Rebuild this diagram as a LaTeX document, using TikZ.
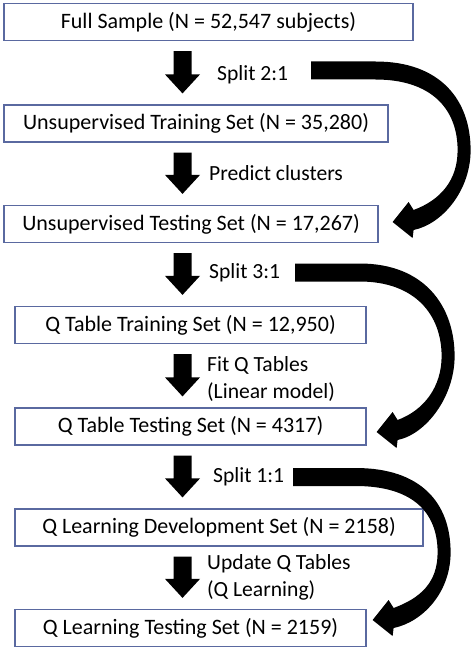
\documentclass[tikz,border=0pt]{standalone}
\usepackage{xcolor}
\usepackage{fontspec}
\setmainfont{Carlito}
\usepackage{tikz}
\usetikzlibrary{positioning}
\usetikzlibrary{calc}

\definecolor{boxline}{RGB}{90,105,160}

\begin{document}
\begin{tikzpicture}
    [%%%%%%%%%%%%%%%%%%%%%%%%%%%%%%
        x=1pt,y=-1pt,
        setbox/.style={rectangle,draw=boxline,line width=1.2pt,minimum height=37pt,inner sep=0pt,font=\fontsize{22}{26}\selectfont},
        lbl/.style={anchor=west,align=left,inner sep=0pt,font=\fontsize{21.6}{27}\selectfont}
    ]%%%%%%%%%%%%%%%%%%%%%%%%%%%%%%

\useasboundingbox (0,0) rectangle (474,650);

% data sets
\node[setbox,minimum width=409pt] (b1) at (208.5,22) {Full Sample (N = 52,547 subjects)};
\node[setbox,minimum width=384pt] (b2) at (196,123.5) {Unsupervised Training Set (N = 35,280)};
\node[setbox,minimum width=374pt] (b3) at (191,224) {Unsupervised Testing Set (N = 17,267)};
\node[setbox,minimum width=351pt] (b4) at (190.5,325) {Q Table Training Set (N = 12,950)};
\node[setbox,minimum width=351pt] (b5) at (190.5,426.5) {Q Table Testing Set (N = 4317)};
\node[setbox,minimum width=408pt] (b6) at (219,527.5) {Q Learning Development Set (N = 2158)};
\node[setbox,minimum width=351pt] (b7) at (190.5,628) {Q Learning Testing Set (N = 2159)};

% steps
\node[lbl] (l1) at (217,75) {Split 2:1};
\node[lbl] (l2) at (209,173) {Predict clusters};
\node[lbl] (l3) at (209,273) {Split 3:1};
\node[lbl] (l4) at (207,378.5) {Fit Q Tables\\(Linear model)};
\node[lbl] (l5) at (213,477) {Split 1:1};
\node[lbl] (l6) at (207,577.5) {Update Q Tables\\(Q Learning)};

% block arrows down
\coordinate (ax) at (182.5,0);
\foreach \i/\j in {1/2,2/3,3/4,4/5,5/6,6/7}{
    \coordinate (at) at ($(ax |- b\i.south)+(0,10)$);
    \coordinate (ab) at ($(ax |- b\j.north)+(0,-11)$);
    \fill ($(at)+(-9,0)$) -- ($(ab)+(-9,-19)$) -- ($(ab)+(-17.5,-19)$) -- (ab)
        -- ($(ab)+(17.5,-19)$) -- ($(ab)+(9,-19)$) -- ($(at)+(9,0)$) -- cycle;
}

% curved arrows to the held out sets
\coordinate (s1) at (311,70.5);
\coordinate (t1) at ($(b3.east)+(14,-2)$);
\coordinate (s2) at (295,272.5);
\coordinate (t2) at ($(b5.east)+(10,5.5)$);
\coordinate (s3) at (293,477);
\coordinate (t3) at ($(b7.east)+(6,-8)$);

\foreach \s/\t in {s1/t1,s2/t2,s3/t3}{
    \coordinate (m) at ($(\s)!.5!(\t)$);
    \coordinate (mm) at ($(m -| \t)+(78,4)$);
    \fill ($(\s)+(0,-9)$) -- ($(\t |- \s)+(-17,-9)$)
        .. controls ($(\t |- \s)+(48,-9)$) and ($(mm)+(0,-50)$) .. (mm)
        .. controls ($(mm)+(0,40)$) and ($(\t)+(50,2)$) .. ($(\t)+(21,8)$)
        -- ($(\t)+(20,16)$) -- (\t) -- ($(\t)+(16,-20)$) -- ($(\t)+(21,-12)$)
        .. controls ($(\t)+(48,-22)$) and ($(mm)+(-13,30)$) .. ($(mm)+(-13,0)$)
        .. controls ($(mm)+(-13,-42)$) and ($(\t |- \s)+(38,9)$) .. ($(\t |- \s)+(-17,9)$)
        -- ($(\s)+(0,9)$) -- cycle;
}

\end{tikzpicture}
\end{document}
